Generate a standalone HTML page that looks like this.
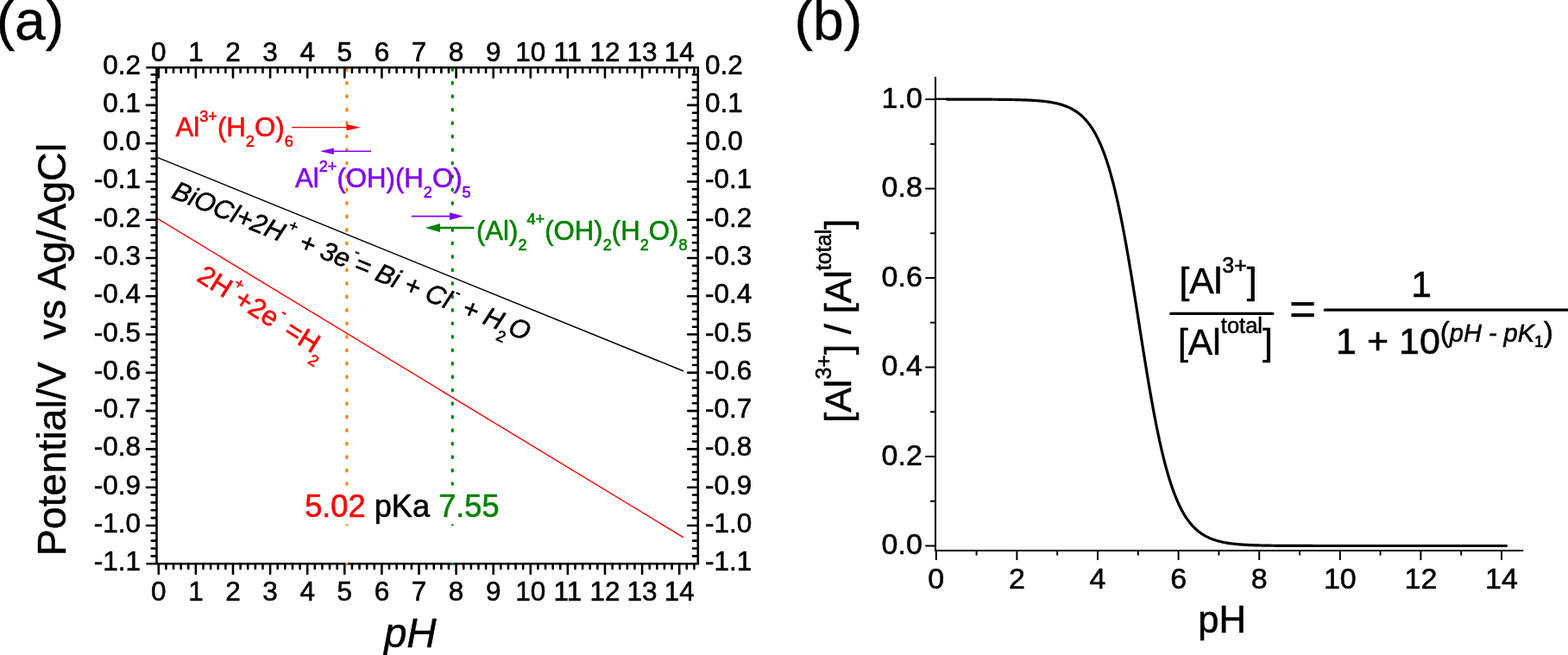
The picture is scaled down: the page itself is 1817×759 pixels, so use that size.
<!DOCTYPE html>
<html lang="en"><head><meta charset="utf-8"><title>Figure</title>
<style>html,body{margin:0;padding:0;background:#fff;overflow:hidden}svg{display:block}</style></head>
<body>
<svg width="1817" height="759" viewBox="0 0 1817 759" style="display:block" font-family='"Liberation Sans", sans-serif'>
<style>text{stroke-width:0.58px;stroke-linejoin:round;fill:#000;stroke:#000} .r{fill:#ff0000;stroke:#ff0000} .p{fill:#8000ff;stroke:#8000ff} .g{fill:#008000;stroke:#008000} .k{fill:#000;stroke:#000}</style>
<rect x="0" y="0" width="1817" height="759" fill="#fff"/>
<line x1="182.80" y1="182.60" x2="792.00" y2="430.00" stroke="#000" stroke-width="1.4" />
<line x1="182.80" y1="253.40" x2="792.20" y2="622.90" stroke="#ff0000" stroke-width="1.4" />
<line x1="401.90" y1="79.9" x2="401.90" y2="612" stroke="#ff8000" stroke-width="3.2" stroke-dasharray="1.6 13.88" stroke-linecap="round"/>
<line x1="524.30" y1="79.9" x2="524.30" y2="612" stroke="#008000" stroke-width="3.2" stroke-dasharray="1.6 13.88" stroke-linecap="round"/>
<rect x="350" y="562.6" width="232" height="44.9" fill="#fff"/>
<text x="353.2" y="599.3" font-size="36.2"><tspan class="r">5.02</tspan><tspan class="k"> pKa </tspan><tspan class="g">7.55</tspan></text>
<line x1="169.40" y1="78.20" x2="810.10" y2="78.20" stroke="#000" stroke-width="2.6" />
<line x1="169.40" y1="653.30" x2="810.10" y2="653.30" stroke="#000" stroke-width="2.6" />
<line x1="181.50" y1="78.20" x2="181.50" y2="653.30" stroke="#000" stroke-width="2.6" />
<line x1="808.80" y1="78.20" x2="808.80" y2="653.30" stroke="#000" stroke-width="2.6" />
<line x1="183.80" y1="78.80" x2="183.80" y2="89.80" stroke="#000" stroke-width="2.6" stroke-linecap="round"/>
<line x1="183.80" y1="653.90" x2="183.80" y2="664.90" stroke="#000" stroke-width="2.6" stroke-linecap="round"/>
<line x1="192.42" y1="78.80" x2="192.42" y2="84.00" stroke="#000" stroke-width="2.6" stroke-linecap="round"/>
<line x1="192.42" y1="653.90" x2="192.42" y2="659.10" stroke="#000" stroke-width="2.6" stroke-linecap="round"/>
<line x1="201.04" y1="78.80" x2="201.04" y2="84.00" stroke="#000" stroke-width="2.6" stroke-linecap="round"/>
<line x1="201.04" y1="653.90" x2="201.04" y2="659.10" stroke="#000" stroke-width="2.6" stroke-linecap="round"/>
<line x1="209.66" y1="78.80" x2="209.66" y2="84.00" stroke="#000" stroke-width="2.6" stroke-linecap="round"/>
<line x1="209.66" y1="653.90" x2="209.66" y2="659.10" stroke="#000" stroke-width="2.6" stroke-linecap="round"/>
<line x1="218.28" y1="78.80" x2="218.28" y2="84.00" stroke="#000" stroke-width="2.6" stroke-linecap="round"/>
<line x1="218.28" y1="653.90" x2="218.28" y2="659.10" stroke="#000" stroke-width="2.6" stroke-linecap="round"/>
<line x1="226.90" y1="78.80" x2="226.90" y2="89.80" stroke="#000" stroke-width="2.6" stroke-linecap="round"/>
<line x1="226.90" y1="653.90" x2="226.90" y2="664.90" stroke="#000" stroke-width="2.6" stroke-linecap="round"/>
<line x1="235.52" y1="78.80" x2="235.52" y2="84.00" stroke="#000" stroke-width="2.6" stroke-linecap="round"/>
<line x1="235.52" y1="653.90" x2="235.52" y2="659.10" stroke="#000" stroke-width="2.6" stroke-linecap="round"/>
<line x1="244.14" y1="78.80" x2="244.14" y2="84.00" stroke="#000" stroke-width="2.6" stroke-linecap="round"/>
<line x1="244.14" y1="653.90" x2="244.14" y2="659.10" stroke="#000" stroke-width="2.6" stroke-linecap="round"/>
<line x1="252.76" y1="78.80" x2="252.76" y2="84.00" stroke="#000" stroke-width="2.6" stroke-linecap="round"/>
<line x1="252.76" y1="653.90" x2="252.76" y2="659.10" stroke="#000" stroke-width="2.6" stroke-linecap="round"/>
<line x1="261.38" y1="78.80" x2="261.38" y2="84.00" stroke="#000" stroke-width="2.6" stroke-linecap="round"/>
<line x1="261.38" y1="653.90" x2="261.38" y2="659.10" stroke="#000" stroke-width="2.6" stroke-linecap="round"/>
<line x1="270.00" y1="78.80" x2="270.00" y2="89.80" stroke="#000" stroke-width="2.6" stroke-linecap="round"/>
<line x1="270.00" y1="653.90" x2="270.00" y2="664.90" stroke="#000" stroke-width="2.6" stroke-linecap="round"/>
<line x1="278.62" y1="78.80" x2="278.62" y2="84.00" stroke="#000" stroke-width="2.6" stroke-linecap="round"/>
<line x1="278.62" y1="653.90" x2="278.62" y2="659.10" stroke="#000" stroke-width="2.6" stroke-linecap="round"/>
<line x1="287.24" y1="78.80" x2="287.24" y2="84.00" stroke="#000" stroke-width="2.6" stroke-linecap="round"/>
<line x1="287.24" y1="653.90" x2="287.24" y2="659.10" stroke="#000" stroke-width="2.6" stroke-linecap="round"/>
<line x1="295.86" y1="78.80" x2="295.86" y2="84.00" stroke="#000" stroke-width="2.6" stroke-linecap="round"/>
<line x1="295.86" y1="653.90" x2="295.86" y2="659.10" stroke="#000" stroke-width="2.6" stroke-linecap="round"/>
<line x1="304.48" y1="78.80" x2="304.48" y2="84.00" stroke="#000" stroke-width="2.6" stroke-linecap="round"/>
<line x1="304.48" y1="653.90" x2="304.48" y2="659.10" stroke="#000" stroke-width="2.6" stroke-linecap="round"/>
<line x1="313.10" y1="78.80" x2="313.10" y2="89.80" stroke="#000" stroke-width="2.6" stroke-linecap="round"/>
<line x1="313.10" y1="653.90" x2="313.10" y2="664.90" stroke="#000" stroke-width="2.6" stroke-linecap="round"/>
<line x1="321.72" y1="78.80" x2="321.72" y2="84.00" stroke="#000" stroke-width="2.6" stroke-linecap="round"/>
<line x1="321.72" y1="653.90" x2="321.72" y2="659.10" stroke="#000" stroke-width="2.6" stroke-linecap="round"/>
<line x1="330.34" y1="78.80" x2="330.34" y2="84.00" stroke="#000" stroke-width="2.6" stroke-linecap="round"/>
<line x1="330.34" y1="653.90" x2="330.34" y2="659.10" stroke="#000" stroke-width="2.6" stroke-linecap="round"/>
<line x1="338.96" y1="78.80" x2="338.96" y2="84.00" stroke="#000" stroke-width="2.6" stroke-linecap="round"/>
<line x1="338.96" y1="653.90" x2="338.96" y2="659.10" stroke="#000" stroke-width="2.6" stroke-linecap="round"/>
<line x1="347.58" y1="78.80" x2="347.58" y2="84.00" stroke="#000" stroke-width="2.6" stroke-linecap="round"/>
<line x1="347.58" y1="653.90" x2="347.58" y2="659.10" stroke="#000" stroke-width="2.6" stroke-linecap="round"/>
<line x1="356.20" y1="78.80" x2="356.20" y2="89.80" stroke="#000" stroke-width="2.6" stroke-linecap="round"/>
<line x1="356.20" y1="653.90" x2="356.20" y2="664.90" stroke="#000" stroke-width="2.6" stroke-linecap="round"/>
<line x1="364.82" y1="78.80" x2="364.82" y2="84.00" stroke="#000" stroke-width="2.6" stroke-linecap="round"/>
<line x1="364.82" y1="653.90" x2="364.82" y2="659.10" stroke="#000" stroke-width="2.6" stroke-linecap="round"/>
<line x1="373.44" y1="78.80" x2="373.44" y2="84.00" stroke="#000" stroke-width="2.6" stroke-linecap="round"/>
<line x1="373.44" y1="653.90" x2="373.44" y2="659.10" stroke="#000" stroke-width="2.6" stroke-linecap="round"/>
<line x1="382.06" y1="78.80" x2="382.06" y2="84.00" stroke="#000" stroke-width="2.6" stroke-linecap="round"/>
<line x1="382.06" y1="653.90" x2="382.06" y2="659.10" stroke="#000" stroke-width="2.6" stroke-linecap="round"/>
<line x1="390.68" y1="78.80" x2="390.68" y2="84.00" stroke="#000" stroke-width="2.6" stroke-linecap="round"/>
<line x1="390.68" y1="653.90" x2="390.68" y2="659.10" stroke="#000" stroke-width="2.6" stroke-linecap="round"/>
<line x1="399.30" y1="78.80" x2="399.30" y2="89.80" stroke="#000" stroke-width="2.6" stroke-linecap="round"/>
<line x1="399.30" y1="653.90" x2="399.30" y2="664.90" stroke="#000" stroke-width="2.6" stroke-linecap="round"/>
<line x1="407.92" y1="78.80" x2="407.92" y2="84.00" stroke="#000" stroke-width="2.6" stroke-linecap="round"/>
<line x1="407.92" y1="653.90" x2="407.92" y2="659.10" stroke="#000" stroke-width="2.6" stroke-linecap="round"/>
<line x1="416.54" y1="78.80" x2="416.54" y2="84.00" stroke="#000" stroke-width="2.6" stroke-linecap="round"/>
<line x1="416.54" y1="653.90" x2="416.54" y2="659.10" stroke="#000" stroke-width="2.6" stroke-linecap="round"/>
<line x1="425.16" y1="78.80" x2="425.16" y2="84.00" stroke="#000" stroke-width="2.6" stroke-linecap="round"/>
<line x1="425.16" y1="653.90" x2="425.16" y2="659.10" stroke="#000" stroke-width="2.6" stroke-linecap="round"/>
<line x1="433.78" y1="78.80" x2="433.78" y2="84.00" stroke="#000" stroke-width="2.6" stroke-linecap="round"/>
<line x1="433.78" y1="653.90" x2="433.78" y2="659.10" stroke="#000" stroke-width="2.6" stroke-linecap="round"/>
<line x1="442.40" y1="78.80" x2="442.40" y2="89.80" stroke="#000" stroke-width="2.6" stroke-linecap="round"/>
<line x1="442.40" y1="653.90" x2="442.40" y2="664.90" stroke="#000" stroke-width="2.6" stroke-linecap="round"/>
<line x1="451.02" y1="78.80" x2="451.02" y2="84.00" stroke="#000" stroke-width="2.6" stroke-linecap="round"/>
<line x1="451.02" y1="653.90" x2="451.02" y2="659.10" stroke="#000" stroke-width="2.6" stroke-linecap="round"/>
<line x1="459.64" y1="78.80" x2="459.64" y2="84.00" stroke="#000" stroke-width="2.6" stroke-linecap="round"/>
<line x1="459.64" y1="653.90" x2="459.64" y2="659.10" stroke="#000" stroke-width="2.6" stroke-linecap="round"/>
<line x1="468.26" y1="78.80" x2="468.26" y2="84.00" stroke="#000" stroke-width="2.6" stroke-linecap="round"/>
<line x1="468.26" y1="653.90" x2="468.26" y2="659.10" stroke="#000" stroke-width="2.6" stroke-linecap="round"/>
<line x1="476.88" y1="78.80" x2="476.88" y2="84.00" stroke="#000" stroke-width="2.6" stroke-linecap="round"/>
<line x1="476.88" y1="653.90" x2="476.88" y2="659.10" stroke="#000" stroke-width="2.6" stroke-linecap="round"/>
<line x1="485.50" y1="78.80" x2="485.50" y2="89.80" stroke="#000" stroke-width="2.6" stroke-linecap="round"/>
<line x1="485.50" y1="653.90" x2="485.50" y2="664.90" stroke="#000" stroke-width="2.6" stroke-linecap="round"/>
<line x1="494.12" y1="78.80" x2="494.12" y2="84.00" stroke="#000" stroke-width="2.6" stroke-linecap="round"/>
<line x1="494.12" y1="653.90" x2="494.12" y2="659.10" stroke="#000" stroke-width="2.6" stroke-linecap="round"/>
<line x1="502.74" y1="78.80" x2="502.74" y2="84.00" stroke="#000" stroke-width="2.6" stroke-linecap="round"/>
<line x1="502.74" y1="653.90" x2="502.74" y2="659.10" stroke="#000" stroke-width="2.6" stroke-linecap="round"/>
<line x1="511.36" y1="78.80" x2="511.36" y2="84.00" stroke="#000" stroke-width="2.6" stroke-linecap="round"/>
<line x1="511.36" y1="653.90" x2="511.36" y2="659.10" stroke="#000" stroke-width="2.6" stroke-linecap="round"/>
<line x1="519.98" y1="78.80" x2="519.98" y2="84.00" stroke="#000" stroke-width="2.6" stroke-linecap="round"/>
<line x1="519.98" y1="653.90" x2="519.98" y2="659.10" stroke="#000" stroke-width="2.6" stroke-linecap="round"/>
<line x1="528.60" y1="78.80" x2="528.60" y2="89.80" stroke="#000" stroke-width="2.6" stroke-linecap="round"/>
<line x1="528.60" y1="653.90" x2="528.60" y2="664.90" stroke="#000" stroke-width="2.6" stroke-linecap="round"/>
<line x1="537.22" y1="78.80" x2="537.22" y2="84.00" stroke="#000" stroke-width="2.6" stroke-linecap="round"/>
<line x1="537.22" y1="653.90" x2="537.22" y2="659.10" stroke="#000" stroke-width="2.6" stroke-linecap="round"/>
<line x1="545.84" y1="78.80" x2="545.84" y2="84.00" stroke="#000" stroke-width="2.6" stroke-linecap="round"/>
<line x1="545.84" y1="653.90" x2="545.84" y2="659.10" stroke="#000" stroke-width="2.6" stroke-linecap="round"/>
<line x1="554.46" y1="78.80" x2="554.46" y2="84.00" stroke="#000" stroke-width="2.6" stroke-linecap="round"/>
<line x1="554.46" y1="653.90" x2="554.46" y2="659.10" stroke="#000" stroke-width="2.6" stroke-linecap="round"/>
<line x1="563.08" y1="78.80" x2="563.08" y2="84.00" stroke="#000" stroke-width="2.6" stroke-linecap="round"/>
<line x1="563.08" y1="653.90" x2="563.08" y2="659.10" stroke="#000" stroke-width="2.6" stroke-linecap="round"/>
<line x1="571.70" y1="78.80" x2="571.70" y2="89.80" stroke="#000" stroke-width="2.6" stroke-linecap="round"/>
<line x1="571.70" y1="653.90" x2="571.70" y2="664.90" stroke="#000" stroke-width="2.6" stroke-linecap="round"/>
<line x1="580.32" y1="78.80" x2="580.32" y2="84.00" stroke="#000" stroke-width="2.6" stroke-linecap="round"/>
<line x1="580.32" y1="653.90" x2="580.32" y2="659.10" stroke="#000" stroke-width="2.6" stroke-linecap="round"/>
<line x1="588.94" y1="78.80" x2="588.94" y2="84.00" stroke="#000" stroke-width="2.6" stroke-linecap="round"/>
<line x1="588.94" y1="653.90" x2="588.94" y2="659.10" stroke="#000" stroke-width="2.6" stroke-linecap="round"/>
<line x1="597.56" y1="78.80" x2="597.56" y2="84.00" stroke="#000" stroke-width="2.6" stroke-linecap="round"/>
<line x1="597.56" y1="653.90" x2="597.56" y2="659.10" stroke="#000" stroke-width="2.6" stroke-linecap="round"/>
<line x1="606.18" y1="78.80" x2="606.18" y2="84.00" stroke="#000" stroke-width="2.6" stroke-linecap="round"/>
<line x1="606.18" y1="653.90" x2="606.18" y2="659.10" stroke="#000" stroke-width="2.6" stroke-linecap="round"/>
<line x1="614.80" y1="78.80" x2="614.80" y2="89.80" stroke="#000" stroke-width="2.6" stroke-linecap="round"/>
<line x1="614.80" y1="653.90" x2="614.80" y2="664.90" stroke="#000" stroke-width="2.6" stroke-linecap="round"/>
<line x1="623.42" y1="78.80" x2="623.42" y2="84.00" stroke="#000" stroke-width="2.6" stroke-linecap="round"/>
<line x1="623.42" y1="653.90" x2="623.42" y2="659.10" stroke="#000" stroke-width="2.6" stroke-linecap="round"/>
<line x1="632.04" y1="78.80" x2="632.04" y2="84.00" stroke="#000" stroke-width="2.6" stroke-linecap="round"/>
<line x1="632.04" y1="653.90" x2="632.04" y2="659.10" stroke="#000" stroke-width="2.6" stroke-linecap="round"/>
<line x1="640.66" y1="78.80" x2="640.66" y2="84.00" stroke="#000" stroke-width="2.6" stroke-linecap="round"/>
<line x1="640.66" y1="653.90" x2="640.66" y2="659.10" stroke="#000" stroke-width="2.6" stroke-linecap="round"/>
<line x1="649.28" y1="78.80" x2="649.28" y2="84.00" stroke="#000" stroke-width="2.6" stroke-linecap="round"/>
<line x1="649.28" y1="653.90" x2="649.28" y2="659.10" stroke="#000" stroke-width="2.6" stroke-linecap="round"/>
<line x1="657.90" y1="78.80" x2="657.90" y2="89.80" stroke="#000" stroke-width="2.6" stroke-linecap="round"/>
<line x1="657.90" y1="653.90" x2="657.90" y2="664.90" stroke="#000" stroke-width="2.6" stroke-linecap="round"/>
<line x1="666.52" y1="78.80" x2="666.52" y2="84.00" stroke="#000" stroke-width="2.6" stroke-linecap="round"/>
<line x1="666.52" y1="653.90" x2="666.52" y2="659.10" stroke="#000" stroke-width="2.6" stroke-linecap="round"/>
<line x1="675.14" y1="78.80" x2="675.14" y2="84.00" stroke="#000" stroke-width="2.6" stroke-linecap="round"/>
<line x1="675.14" y1="653.90" x2="675.14" y2="659.10" stroke="#000" stroke-width="2.6" stroke-linecap="round"/>
<line x1="683.76" y1="78.80" x2="683.76" y2="84.00" stroke="#000" stroke-width="2.6" stroke-linecap="round"/>
<line x1="683.76" y1="653.90" x2="683.76" y2="659.10" stroke="#000" stroke-width="2.6" stroke-linecap="round"/>
<line x1="692.38" y1="78.80" x2="692.38" y2="84.00" stroke="#000" stroke-width="2.6" stroke-linecap="round"/>
<line x1="692.38" y1="653.90" x2="692.38" y2="659.10" stroke="#000" stroke-width="2.6" stroke-linecap="round"/>
<line x1="701.00" y1="78.80" x2="701.00" y2="89.80" stroke="#000" stroke-width="2.6" stroke-linecap="round"/>
<line x1="701.00" y1="653.90" x2="701.00" y2="664.90" stroke="#000" stroke-width="2.6" stroke-linecap="round"/>
<line x1="709.62" y1="78.80" x2="709.62" y2="84.00" stroke="#000" stroke-width="2.6" stroke-linecap="round"/>
<line x1="709.62" y1="653.90" x2="709.62" y2="659.10" stroke="#000" stroke-width="2.6" stroke-linecap="round"/>
<line x1="718.24" y1="78.80" x2="718.24" y2="84.00" stroke="#000" stroke-width="2.6" stroke-linecap="round"/>
<line x1="718.24" y1="653.90" x2="718.24" y2="659.10" stroke="#000" stroke-width="2.6" stroke-linecap="round"/>
<line x1="726.86" y1="78.80" x2="726.86" y2="84.00" stroke="#000" stroke-width="2.6" stroke-linecap="round"/>
<line x1="726.86" y1="653.90" x2="726.86" y2="659.10" stroke="#000" stroke-width="2.6" stroke-linecap="round"/>
<line x1="735.48" y1="78.80" x2="735.48" y2="84.00" stroke="#000" stroke-width="2.6" stroke-linecap="round"/>
<line x1="735.48" y1="653.90" x2="735.48" y2="659.10" stroke="#000" stroke-width="2.6" stroke-linecap="round"/>
<line x1="744.10" y1="78.80" x2="744.10" y2="89.80" stroke="#000" stroke-width="2.6" stroke-linecap="round"/>
<line x1="744.10" y1="653.90" x2="744.10" y2="664.90" stroke="#000" stroke-width="2.6" stroke-linecap="round"/>
<line x1="752.72" y1="78.80" x2="752.72" y2="84.00" stroke="#000" stroke-width="2.6" stroke-linecap="round"/>
<line x1="752.72" y1="653.90" x2="752.72" y2="659.10" stroke="#000" stroke-width="2.6" stroke-linecap="round"/>
<line x1="761.34" y1="78.80" x2="761.34" y2="84.00" stroke="#000" stroke-width="2.6" stroke-linecap="round"/>
<line x1="761.34" y1="653.90" x2="761.34" y2="659.10" stroke="#000" stroke-width="2.6" stroke-linecap="round"/>
<line x1="769.96" y1="78.80" x2="769.96" y2="84.00" stroke="#000" stroke-width="2.6" stroke-linecap="round"/>
<line x1="769.96" y1="653.90" x2="769.96" y2="659.10" stroke="#000" stroke-width="2.6" stroke-linecap="round"/>
<line x1="778.58" y1="78.80" x2="778.58" y2="84.00" stroke="#000" stroke-width="2.6" stroke-linecap="round"/>
<line x1="778.58" y1="653.90" x2="778.58" y2="659.10" stroke="#000" stroke-width="2.6" stroke-linecap="round"/>
<line x1="787.20" y1="78.80" x2="787.20" y2="89.80" stroke="#000" stroke-width="2.6" stroke-linecap="round"/>
<line x1="787.20" y1="653.90" x2="787.20" y2="664.90" stroke="#000" stroke-width="2.6" stroke-linecap="round"/>
<line x1="795.82" y1="78.80" x2="795.82" y2="84.00" stroke="#000" stroke-width="2.6" stroke-linecap="round"/>
<line x1="795.82" y1="653.90" x2="795.82" y2="659.10" stroke="#000" stroke-width="2.6" stroke-linecap="round"/>
<line x1="804.44" y1="78.80" x2="804.44" y2="84.00" stroke="#000" stroke-width="2.6" stroke-linecap="round"/>
<line x1="804.44" y1="653.90" x2="804.44" y2="659.10" stroke="#000" stroke-width="2.6" stroke-linecap="round"/>
<line x1="180.90" y1="86.46" x2="175.70" y2="86.46" stroke="#000" stroke-width="2.6" stroke-linecap="round"/>
<line x1="808.20" y1="86.46" x2="803.00" y2="86.46" stroke="#000" stroke-width="2.6" stroke-linecap="round"/>
<line x1="180.90" y1="95.31" x2="175.70" y2="95.31" stroke="#000" stroke-width="2.6" stroke-linecap="round"/>
<line x1="808.20" y1="95.31" x2="803.00" y2="95.31" stroke="#000" stroke-width="2.6" stroke-linecap="round"/>
<line x1="180.90" y1="104.17" x2="175.70" y2="104.17" stroke="#000" stroke-width="2.6" stroke-linecap="round"/>
<line x1="808.20" y1="104.17" x2="803.00" y2="104.17" stroke="#000" stroke-width="2.6" stroke-linecap="round"/>
<line x1="180.90" y1="113.02" x2="175.70" y2="113.02" stroke="#000" stroke-width="2.6" stroke-linecap="round"/>
<line x1="808.20" y1="113.02" x2="803.00" y2="113.02" stroke="#000" stroke-width="2.6" stroke-linecap="round"/>
<line x1="180.90" y1="121.88" x2="169.90" y2="121.88" stroke="#000" stroke-width="2.6" stroke-linecap="round"/>
<line x1="808.20" y1="121.88" x2="797.20" y2="121.88" stroke="#000" stroke-width="2.6" stroke-linecap="round"/>
<line x1="180.90" y1="130.74" x2="175.70" y2="130.74" stroke="#000" stroke-width="2.6" stroke-linecap="round"/>
<line x1="808.20" y1="130.74" x2="803.00" y2="130.74" stroke="#000" stroke-width="2.6" stroke-linecap="round"/>
<line x1="180.90" y1="139.59" x2="175.70" y2="139.59" stroke="#000" stroke-width="2.6" stroke-linecap="round"/>
<line x1="808.20" y1="139.59" x2="803.00" y2="139.59" stroke="#000" stroke-width="2.6" stroke-linecap="round"/>
<line x1="180.90" y1="148.45" x2="175.70" y2="148.45" stroke="#000" stroke-width="2.6" stroke-linecap="round"/>
<line x1="808.20" y1="148.45" x2="803.00" y2="148.45" stroke="#000" stroke-width="2.6" stroke-linecap="round"/>
<line x1="180.90" y1="157.30" x2="175.70" y2="157.30" stroke="#000" stroke-width="2.6" stroke-linecap="round"/>
<line x1="808.20" y1="157.30" x2="803.00" y2="157.30" stroke="#000" stroke-width="2.6" stroke-linecap="round"/>
<line x1="180.90" y1="166.16" x2="169.90" y2="166.16" stroke="#000" stroke-width="2.6" stroke-linecap="round"/>
<line x1="808.20" y1="166.16" x2="797.20" y2="166.16" stroke="#000" stroke-width="2.6" stroke-linecap="round"/>
<line x1="180.90" y1="175.02" x2="175.70" y2="175.02" stroke="#000" stroke-width="2.6" stroke-linecap="round"/>
<line x1="808.20" y1="175.02" x2="803.00" y2="175.02" stroke="#000" stroke-width="2.6" stroke-linecap="round"/>
<line x1="180.90" y1="183.87" x2="175.70" y2="183.87" stroke="#000" stroke-width="2.6" stroke-linecap="round"/>
<line x1="808.20" y1="183.87" x2="803.00" y2="183.87" stroke="#000" stroke-width="2.6" stroke-linecap="round"/>
<line x1="180.90" y1="192.73" x2="175.70" y2="192.73" stroke="#000" stroke-width="2.6" stroke-linecap="round"/>
<line x1="808.20" y1="192.73" x2="803.00" y2="192.73" stroke="#000" stroke-width="2.6" stroke-linecap="round"/>
<line x1="180.90" y1="201.58" x2="175.70" y2="201.58" stroke="#000" stroke-width="2.6" stroke-linecap="round"/>
<line x1="808.20" y1="201.58" x2="803.00" y2="201.58" stroke="#000" stroke-width="2.6" stroke-linecap="round"/>
<line x1="180.90" y1="210.44" x2="169.90" y2="210.44" stroke="#000" stroke-width="2.6" stroke-linecap="round"/>
<line x1="808.20" y1="210.44" x2="797.20" y2="210.44" stroke="#000" stroke-width="2.6" stroke-linecap="round"/>
<line x1="180.90" y1="219.30" x2="175.70" y2="219.30" stroke="#000" stroke-width="2.6" stroke-linecap="round"/>
<line x1="808.20" y1="219.30" x2="803.00" y2="219.30" stroke="#000" stroke-width="2.6" stroke-linecap="round"/>
<line x1="180.90" y1="228.15" x2="175.70" y2="228.15" stroke="#000" stroke-width="2.6" stroke-linecap="round"/>
<line x1="808.20" y1="228.15" x2="803.00" y2="228.15" stroke="#000" stroke-width="2.6" stroke-linecap="round"/>
<line x1="180.90" y1="237.01" x2="175.70" y2="237.01" stroke="#000" stroke-width="2.6" stroke-linecap="round"/>
<line x1="808.20" y1="237.01" x2="803.00" y2="237.01" stroke="#000" stroke-width="2.6" stroke-linecap="round"/>
<line x1="180.90" y1="245.86" x2="175.70" y2="245.86" stroke="#000" stroke-width="2.6" stroke-linecap="round"/>
<line x1="808.20" y1="245.86" x2="803.00" y2="245.86" stroke="#000" stroke-width="2.6" stroke-linecap="round"/>
<line x1="180.90" y1="254.72" x2="169.90" y2="254.72" stroke="#000" stroke-width="2.6" stroke-linecap="round"/>
<line x1="808.20" y1="254.72" x2="797.20" y2="254.72" stroke="#000" stroke-width="2.6" stroke-linecap="round"/>
<line x1="180.90" y1="263.58" x2="175.70" y2="263.58" stroke="#000" stroke-width="2.6" stroke-linecap="round"/>
<line x1="808.20" y1="263.58" x2="803.00" y2="263.58" stroke="#000" stroke-width="2.6" stroke-linecap="round"/>
<line x1="180.90" y1="272.43" x2="175.70" y2="272.43" stroke="#000" stroke-width="2.6" stroke-linecap="round"/>
<line x1="808.20" y1="272.43" x2="803.00" y2="272.43" stroke="#000" stroke-width="2.6" stroke-linecap="round"/>
<line x1="180.90" y1="281.29" x2="175.70" y2="281.29" stroke="#000" stroke-width="2.6" stroke-linecap="round"/>
<line x1="808.20" y1="281.29" x2="803.00" y2="281.29" stroke="#000" stroke-width="2.6" stroke-linecap="round"/>
<line x1="180.90" y1="290.14" x2="175.70" y2="290.14" stroke="#000" stroke-width="2.6" stroke-linecap="round"/>
<line x1="808.20" y1="290.14" x2="803.00" y2="290.14" stroke="#000" stroke-width="2.6" stroke-linecap="round"/>
<line x1="180.90" y1="299.00" x2="169.90" y2="299.00" stroke="#000" stroke-width="2.6" stroke-linecap="round"/>
<line x1="808.20" y1="299.00" x2="797.20" y2="299.00" stroke="#000" stroke-width="2.6" stroke-linecap="round"/>
<line x1="180.90" y1="307.86" x2="175.70" y2="307.86" stroke="#000" stroke-width="2.6" stroke-linecap="round"/>
<line x1="808.20" y1="307.86" x2="803.00" y2="307.86" stroke="#000" stroke-width="2.6" stroke-linecap="round"/>
<line x1="180.90" y1="316.71" x2="175.70" y2="316.71" stroke="#000" stroke-width="2.6" stroke-linecap="round"/>
<line x1="808.20" y1="316.71" x2="803.00" y2="316.71" stroke="#000" stroke-width="2.6" stroke-linecap="round"/>
<line x1="180.90" y1="325.57" x2="175.70" y2="325.57" stroke="#000" stroke-width="2.6" stroke-linecap="round"/>
<line x1="808.20" y1="325.57" x2="803.00" y2="325.57" stroke="#000" stroke-width="2.6" stroke-linecap="round"/>
<line x1="180.90" y1="334.42" x2="175.70" y2="334.42" stroke="#000" stroke-width="2.6" stroke-linecap="round"/>
<line x1="808.20" y1="334.42" x2="803.00" y2="334.42" stroke="#000" stroke-width="2.6" stroke-linecap="round"/>
<line x1="180.90" y1="343.28" x2="169.90" y2="343.28" stroke="#000" stroke-width="2.6" stroke-linecap="round"/>
<line x1="808.20" y1="343.28" x2="797.20" y2="343.28" stroke="#000" stroke-width="2.6" stroke-linecap="round"/>
<line x1="180.90" y1="352.14" x2="175.70" y2="352.14" stroke="#000" stroke-width="2.6" stroke-linecap="round"/>
<line x1="808.20" y1="352.14" x2="803.00" y2="352.14" stroke="#000" stroke-width="2.6" stroke-linecap="round"/>
<line x1="180.90" y1="360.99" x2="175.70" y2="360.99" stroke="#000" stroke-width="2.6" stroke-linecap="round"/>
<line x1="808.20" y1="360.99" x2="803.00" y2="360.99" stroke="#000" stroke-width="2.6" stroke-linecap="round"/>
<line x1="180.90" y1="369.85" x2="175.70" y2="369.85" stroke="#000" stroke-width="2.6" stroke-linecap="round"/>
<line x1="808.20" y1="369.85" x2="803.00" y2="369.85" stroke="#000" stroke-width="2.6" stroke-linecap="round"/>
<line x1="180.90" y1="378.70" x2="175.70" y2="378.70" stroke="#000" stroke-width="2.6" stroke-linecap="round"/>
<line x1="808.20" y1="378.70" x2="803.00" y2="378.70" stroke="#000" stroke-width="2.6" stroke-linecap="round"/>
<line x1="180.90" y1="387.56" x2="169.90" y2="387.56" stroke="#000" stroke-width="2.6" stroke-linecap="round"/>
<line x1="808.20" y1="387.56" x2="797.20" y2="387.56" stroke="#000" stroke-width="2.6" stroke-linecap="round"/>
<line x1="180.90" y1="396.42" x2="175.70" y2="396.42" stroke="#000" stroke-width="2.6" stroke-linecap="round"/>
<line x1="808.20" y1="396.42" x2="803.00" y2="396.42" stroke="#000" stroke-width="2.6" stroke-linecap="round"/>
<line x1="180.90" y1="405.27" x2="175.70" y2="405.27" stroke="#000" stroke-width="2.6" stroke-linecap="round"/>
<line x1="808.20" y1="405.27" x2="803.00" y2="405.27" stroke="#000" stroke-width="2.6" stroke-linecap="round"/>
<line x1="180.90" y1="414.13" x2="175.70" y2="414.13" stroke="#000" stroke-width="2.6" stroke-linecap="round"/>
<line x1="808.20" y1="414.13" x2="803.00" y2="414.13" stroke="#000" stroke-width="2.6" stroke-linecap="round"/>
<line x1="180.90" y1="422.98" x2="175.70" y2="422.98" stroke="#000" stroke-width="2.6" stroke-linecap="round"/>
<line x1="808.20" y1="422.98" x2="803.00" y2="422.98" stroke="#000" stroke-width="2.6" stroke-linecap="round"/>
<line x1="180.90" y1="431.84" x2="169.90" y2="431.84" stroke="#000" stroke-width="2.6" stroke-linecap="round"/>
<line x1="808.20" y1="431.84" x2="797.20" y2="431.84" stroke="#000" stroke-width="2.6" stroke-linecap="round"/>
<line x1="180.90" y1="440.70" x2="175.70" y2="440.70" stroke="#000" stroke-width="2.6" stroke-linecap="round"/>
<line x1="808.20" y1="440.70" x2="803.00" y2="440.70" stroke="#000" stroke-width="2.6" stroke-linecap="round"/>
<line x1="180.90" y1="449.55" x2="175.70" y2="449.55" stroke="#000" stroke-width="2.6" stroke-linecap="round"/>
<line x1="808.20" y1="449.55" x2="803.00" y2="449.55" stroke="#000" stroke-width="2.6" stroke-linecap="round"/>
<line x1="180.90" y1="458.41" x2="175.70" y2="458.41" stroke="#000" stroke-width="2.6" stroke-linecap="round"/>
<line x1="808.20" y1="458.41" x2="803.00" y2="458.41" stroke="#000" stroke-width="2.6" stroke-linecap="round"/>
<line x1="180.90" y1="467.26" x2="175.70" y2="467.26" stroke="#000" stroke-width="2.6" stroke-linecap="round"/>
<line x1="808.20" y1="467.26" x2="803.00" y2="467.26" stroke="#000" stroke-width="2.6" stroke-linecap="round"/>
<line x1="180.90" y1="476.12" x2="169.90" y2="476.12" stroke="#000" stroke-width="2.6" stroke-linecap="round"/>
<line x1="808.20" y1="476.12" x2="797.20" y2="476.12" stroke="#000" stroke-width="2.6" stroke-linecap="round"/>
<line x1="180.90" y1="484.98" x2="175.70" y2="484.98" stroke="#000" stroke-width="2.6" stroke-linecap="round"/>
<line x1="808.20" y1="484.98" x2="803.00" y2="484.98" stroke="#000" stroke-width="2.6" stroke-linecap="round"/>
<line x1="180.90" y1="493.83" x2="175.70" y2="493.83" stroke="#000" stroke-width="2.6" stroke-linecap="round"/>
<line x1="808.20" y1="493.83" x2="803.00" y2="493.83" stroke="#000" stroke-width="2.6" stroke-linecap="round"/>
<line x1="180.90" y1="502.69" x2="175.70" y2="502.69" stroke="#000" stroke-width="2.6" stroke-linecap="round"/>
<line x1="808.20" y1="502.69" x2="803.00" y2="502.69" stroke="#000" stroke-width="2.6" stroke-linecap="round"/>
<line x1="180.90" y1="511.54" x2="175.70" y2="511.54" stroke="#000" stroke-width="2.6" stroke-linecap="round"/>
<line x1="808.20" y1="511.54" x2="803.00" y2="511.54" stroke="#000" stroke-width="2.6" stroke-linecap="round"/>
<line x1="180.90" y1="520.40" x2="169.90" y2="520.40" stroke="#000" stroke-width="2.6" stroke-linecap="round"/>
<line x1="808.20" y1="520.40" x2="797.20" y2="520.40" stroke="#000" stroke-width="2.6" stroke-linecap="round"/>
<line x1="180.90" y1="529.26" x2="175.70" y2="529.26" stroke="#000" stroke-width="2.6" stroke-linecap="round"/>
<line x1="808.20" y1="529.26" x2="803.00" y2="529.26" stroke="#000" stroke-width="2.6" stroke-linecap="round"/>
<line x1="180.90" y1="538.11" x2="175.70" y2="538.11" stroke="#000" stroke-width="2.6" stroke-linecap="round"/>
<line x1="808.20" y1="538.11" x2="803.00" y2="538.11" stroke="#000" stroke-width="2.6" stroke-linecap="round"/>
<line x1="180.90" y1="546.97" x2="175.70" y2="546.97" stroke="#000" stroke-width="2.6" stroke-linecap="round"/>
<line x1="808.20" y1="546.97" x2="803.00" y2="546.97" stroke="#000" stroke-width="2.6" stroke-linecap="round"/>
<line x1="180.90" y1="555.82" x2="175.70" y2="555.82" stroke="#000" stroke-width="2.6" stroke-linecap="round"/>
<line x1="808.20" y1="555.82" x2="803.00" y2="555.82" stroke="#000" stroke-width="2.6" stroke-linecap="round"/>
<line x1="180.90" y1="564.68" x2="169.90" y2="564.68" stroke="#000" stroke-width="2.6" stroke-linecap="round"/>
<line x1="808.20" y1="564.68" x2="797.20" y2="564.68" stroke="#000" stroke-width="2.6" stroke-linecap="round"/>
<line x1="180.90" y1="573.54" x2="175.70" y2="573.54" stroke="#000" stroke-width="2.6" stroke-linecap="round"/>
<line x1="808.20" y1="573.54" x2="803.00" y2="573.54" stroke="#000" stroke-width="2.6" stroke-linecap="round"/>
<line x1="180.90" y1="582.39" x2="175.70" y2="582.39" stroke="#000" stroke-width="2.6" stroke-linecap="round"/>
<line x1="808.20" y1="582.39" x2="803.00" y2="582.39" stroke="#000" stroke-width="2.6" stroke-linecap="round"/>
<line x1="180.90" y1="591.25" x2="175.70" y2="591.25" stroke="#000" stroke-width="2.6" stroke-linecap="round"/>
<line x1="808.20" y1="591.25" x2="803.00" y2="591.25" stroke="#000" stroke-width="2.6" stroke-linecap="round"/>
<line x1="180.90" y1="600.10" x2="175.70" y2="600.10" stroke="#000" stroke-width="2.6" stroke-linecap="round"/>
<line x1="808.20" y1="600.10" x2="803.00" y2="600.10" stroke="#000" stroke-width="2.6" stroke-linecap="round"/>
<line x1="180.90" y1="608.96" x2="169.90" y2="608.96" stroke="#000" stroke-width="2.6" stroke-linecap="round"/>
<line x1="808.20" y1="608.96" x2="797.20" y2="608.96" stroke="#000" stroke-width="2.6" stroke-linecap="round"/>
<line x1="180.90" y1="617.82" x2="175.70" y2="617.82" stroke="#000" stroke-width="2.6" stroke-linecap="round"/>
<line x1="808.20" y1="617.82" x2="803.00" y2="617.82" stroke="#000" stroke-width="2.6" stroke-linecap="round"/>
<line x1="180.90" y1="626.67" x2="175.70" y2="626.67" stroke="#000" stroke-width="2.6" stroke-linecap="round"/>
<line x1="808.20" y1="626.67" x2="803.00" y2="626.67" stroke="#000" stroke-width="2.6" stroke-linecap="round"/>
<line x1="180.90" y1="635.53" x2="175.70" y2="635.53" stroke="#000" stroke-width="2.6" stroke-linecap="round"/>
<line x1="808.20" y1="635.53" x2="803.00" y2="635.53" stroke="#000" stroke-width="2.6" stroke-linecap="round"/>
<line x1="180.90" y1="644.38" x2="175.70" y2="644.38" stroke="#000" stroke-width="2.6" stroke-linecap="round"/>
<line x1="808.20" y1="644.38" x2="803.00" y2="644.38" stroke="#000" stroke-width="2.6" stroke-linecap="round"/>
<rect x="400.2" y="652" width="3.4" height="2.6" fill="#ff8000"/>
<rect x="522.6" y="652" width="3.4" height="2.6" fill="#008000"/>
<text x="183.80" y="71.3" font-size="31.5" text-anchor="middle">0</text>
<text x="183.80" y="696.2" font-size="31.5" text-anchor="middle">0</text>
<text x="226.90" y="71.3" font-size="31.5" text-anchor="middle">1</text>
<text x="226.90" y="696.2" font-size="31.5" text-anchor="middle">1</text>
<text x="270.00" y="71.3" font-size="31.5" text-anchor="middle">2</text>
<text x="270.00" y="696.2" font-size="31.5" text-anchor="middle">2</text>
<text x="313.10" y="71.3" font-size="31.5" text-anchor="middle">3</text>
<text x="313.10" y="696.2" font-size="31.5" text-anchor="middle">3</text>
<text x="356.20" y="71.3" font-size="31.5" text-anchor="middle">4</text>
<text x="356.20" y="696.2" font-size="31.5" text-anchor="middle">4</text>
<text x="399.30" y="71.3" font-size="31.5" text-anchor="middle">5</text>
<text x="399.30" y="696.2" font-size="31.5" text-anchor="middle">5</text>
<text x="442.40" y="71.3" font-size="31.5" text-anchor="middle">6</text>
<text x="442.40" y="696.2" font-size="31.5" text-anchor="middle">6</text>
<text x="485.50" y="71.3" font-size="31.5" text-anchor="middle">7</text>
<text x="485.50" y="696.2" font-size="31.5" text-anchor="middle">7</text>
<text x="528.60" y="71.3" font-size="31.5" text-anchor="middle">8</text>
<text x="528.60" y="696.2" font-size="31.5" text-anchor="middle">8</text>
<text x="571.70" y="71.3" font-size="31.5" text-anchor="middle">9</text>
<text x="571.70" y="696.2" font-size="31.5" text-anchor="middle">9</text>
<text x="614.80" y="71.3" font-size="31.5" text-anchor="middle">10</text>
<text x="614.80" y="696.2" font-size="31.5" text-anchor="middle">10</text>
<text x="657.90" y="71.3" font-size="31.5" text-anchor="middle">11</text>
<text x="657.90" y="696.2" font-size="31.5" text-anchor="middle">11</text>
<text x="701.00" y="71.3" font-size="31.5" text-anchor="middle">12</text>
<text x="701.00" y="696.2" font-size="31.5" text-anchor="middle">12</text>
<text x="744.10" y="71.3" font-size="31.5" text-anchor="middle">13</text>
<text x="744.10" y="696.2" font-size="31.5" text-anchor="middle">13</text>
<text x="787.20" y="71.3" font-size="31.5" text-anchor="middle">14</text>
<text x="787.20" y="696.2" font-size="31.5" text-anchor="middle">14</text>
<text x="163.1" y="85.60" font-size="31.5" text-anchor="end">0.2</text>
<text x="817" y="85.60" font-size="31.5">0.2</text>
<text x="163.1" y="129.88" font-size="31.5" text-anchor="end">0.1</text>
<text x="817" y="129.88" font-size="31.5">0.1</text>
<text x="163.1" y="174.16" font-size="31.5" text-anchor="end">0.0</text>
<text x="817" y="174.16" font-size="31.5">0.0</text>
<text x="163.1" y="218.44" font-size="31.5" text-anchor="end">-0.1</text>
<text x="817" y="218.44" font-size="31.5">-0.1</text>
<text x="163.1" y="262.72" font-size="31.5" text-anchor="end">-0.2</text>
<text x="817" y="262.72" font-size="31.5">-0.2</text>
<text x="163.1" y="307.00" font-size="31.5" text-anchor="end">-0.3</text>
<text x="817" y="307.00" font-size="31.5">-0.3</text>
<text x="163.1" y="351.28" font-size="31.5" text-anchor="end">-0.4</text>
<text x="817" y="351.28" font-size="31.5">-0.4</text>
<text x="163.1" y="395.56" font-size="31.5" text-anchor="end">-0.5</text>
<text x="817" y="395.56" font-size="31.5">-0.5</text>
<text x="163.1" y="439.84" font-size="31.5" text-anchor="end">-0.6</text>
<text x="817" y="439.84" font-size="31.5">-0.6</text>
<text x="163.1" y="484.12" font-size="31.5" text-anchor="end">-0.7</text>
<text x="817" y="484.12" font-size="31.5">-0.7</text>
<text x="163.1" y="528.40" font-size="31.5" text-anchor="end">-0.8</text>
<text x="817" y="528.40" font-size="31.5">-0.8</text>
<text x="163.1" y="572.68" font-size="31.5" text-anchor="end">-0.9</text>
<text x="817" y="572.68" font-size="31.5">-0.9</text>
<text x="163.1" y="616.96" font-size="31.5" text-anchor="end">-1.0</text>
<text x="817" y="616.96" font-size="31.5">-1.0</text>
<text x="163.1" y="661.24" font-size="31.5" text-anchor="end">-1.1</text>
<text x="817" y="661.24" font-size="31.5">-1.1</text>
<text x="-4.3" y="45.5" font-size="64.3" style="stroke-width:0.4px">(a)</text>
<text transform="translate(75.8,644.2) rotate(-90)" font-size="46.5" style="stroke-width:0.45px;white-space:pre" xml:space="preserve">Potential/V  vs Ag/AgCl</text>
<text x="444.9" y="749.6" font-size="47.6" font-style="italic" style="stroke-width:0.45px">pH</text>
<text x="203.4" y="158.1" font-size="31.25" class="r" ><tspan dy="0.00" font-size="31.25">Al</tspan><tspan dy="-17.26" font-size="18.15">3+</tspan><tspan dy="17.26" font-size="31.25">(H</tspan><tspan dy="11.90" font-size="18.15">2</tspan><tspan dy="-11.90" font-size="31.25">O)</tspan><tspan dy="11.90" font-size="18.15">6</tspan></text>
<text x="342.0" y="216.7" font-size="31.2" class="p" ><tspan dy="0.00" font-size="31.20">Al</tspan><tspan dy="-17.23" font-size="18.13">2+</tspan><tspan dy="17.23" font-size="31.20">(OH)(H</tspan><tspan dy="11.89" font-size="18.13">2</tspan><tspan dy="-11.89" font-size="31.20">O)</tspan><tspan dy="11.89" font-size="18.13">5</tspan></text>
<text x="551.9" y="277.7" font-size="31.2" class="g" ><tspan dy="0.00" font-size="31.20">(Al)</tspan><tspan dy="11.89" font-size="18.13">2</tspan><tspan dy="-29.12" font-size="18.13">4+</tspan><tspan dy="17.23" font-size="31.20">(OH)</tspan><tspan dy="11.89" font-size="18.13">2</tspan><tspan dy="-11.89" font-size="31.20">(H</tspan><tspan dy="11.89" font-size="18.13">2</tspan><tspan dy="-11.89" font-size="31.20">O)</tspan><tspan dy="11.89" font-size="18.13">8</tspan></text>
<text x="0" y="0" font-size="30.7" class="k" transform="translate(197.4,228.8) rotate(22)"><tspan dy="0.00" font-size="30.70" font-style="italic">BiOCl+2H</tspan><tspan dy="-16.96" dx="2.5" font-size="17.84">+</tspan><tspan dy="16.96" font-size="30.70" font-style="italic"> + 3e</tspan><tspan dy="-16.96" dx="2.5" font-size="17.84">-</tspan><tspan dy="16.96" font-size="30.70" font-style="italic">= Bi + Cl</tspan><tspan dy="-16.96" dx="2.5" font-size="17.84">-</tspan><tspan dy="16.96" font-size="30.70" font-style="italic"> + H</tspan><tspan dy="11.70" dx="-0.5" font-size="17.84">2</tspan><tspan dy="-11.70" font-size="30.70" font-style="italic">O</tspan></text>
<text x="0" y="0" font-size="31.5" class="r" transform="translate(226.5,324.5) rotate(32.2)"><tspan dy="0.00" font-size="31.50">2H</tspan><tspan dy="-17.40" font-size="18.30">+</tspan><tspan dy="17.40" font-size="31.50">+2e</tspan><tspan dy="-17.40" font-size="18.30">-</tspan><tspan dy="17.40" font-size="31.50"> =H</tspan><tspan dy="12.00" font-size="18.30">2</tspan></text>
<line x1="338.1" y1="147.7" x2="404.8" y2="147.7" stroke="#ff0000" stroke-width="1.3"/>
<polygon points="418,147.7 401.5,144.1 401.5,151.29999999999998" fill="#ff0000"/>
<line x1="430" y1="175.3" x2="383.64" y2="175.3" stroke="#8000ff" stroke-width="1.4"/>
<polygon points="371,175.3 386.8,171.60000000000002 386.8,179.0" fill="#8000ff"/>
<line x1="476.8" y1="250.6" x2="524.2" y2="250.6" stroke="#8000ff" stroke-width="1.6"/>
<polygon points="537,250.6 521,246.2 521,255.0" fill="#8000ff"/>
<line x1="549.4" y1="264" x2="506.56" y2="264" stroke="#008000" stroke-width="2.7"/>
<polygon points="492.8,264 510.0,259.1 510.0,268.9" fill="#008000"/>
<line x1="1084.00" y1="89.00" x2="1084.00" y2="639.10" stroke="#000" stroke-width="2.1" />
<line x1="1083.00" y1="638.00" x2="1765.20" y2="638.00" stroke="#000" stroke-width="2.2" />
<line x1="1084.80" y1="638.00" x2="1084.80" y2="649.00" stroke="#000" stroke-width="2.0" />
<line x1="1131.60" y1="638.00" x2="1131.60" y2="643.60" stroke="#000" stroke-width="2.0" />
<line x1="1178.40" y1="638.00" x2="1178.40" y2="649.00" stroke="#000" stroke-width="2.0" />
<line x1="1225.20" y1="638.00" x2="1225.20" y2="643.60" stroke="#000" stroke-width="2.0" />
<line x1="1272.00" y1="638.00" x2="1272.00" y2="649.00" stroke="#000" stroke-width="2.0" />
<line x1="1318.80" y1="638.00" x2="1318.80" y2="643.60" stroke="#000" stroke-width="2.0" />
<line x1="1365.60" y1="638.00" x2="1365.60" y2="649.00" stroke="#000" stroke-width="2.0" />
<line x1="1412.40" y1="638.00" x2="1412.40" y2="643.60" stroke="#000" stroke-width="2.0" />
<line x1="1459.20" y1="638.00" x2="1459.20" y2="649.00" stroke="#000" stroke-width="2.0" />
<line x1="1506.00" y1="638.00" x2="1506.00" y2="643.60" stroke="#000" stroke-width="2.0" />
<line x1="1552.80" y1="638.00" x2="1552.80" y2="649.00" stroke="#000" stroke-width="2.0" />
<line x1="1599.60" y1="638.00" x2="1599.60" y2="643.60" stroke="#000" stroke-width="2.0" />
<line x1="1646.40" y1="638.00" x2="1646.40" y2="649.00" stroke="#000" stroke-width="2.0" />
<line x1="1693.20" y1="638.00" x2="1693.20" y2="643.60" stroke="#000" stroke-width="2.0" />
<line x1="1740.00" y1="638.00" x2="1740.00" y2="649.00" stroke="#000" stroke-width="2.0" />
<line x1="1084.00" y1="632.50" x2="1072.20" y2="632.50" stroke="#000" stroke-width="2.0" />
<line x1="1084.00" y1="580.76" x2="1078.00" y2="580.76" stroke="#000" stroke-width="2.0" />
<line x1="1084.00" y1="529.02" x2="1072.20" y2="529.02" stroke="#000" stroke-width="2.0" />
<line x1="1084.00" y1="477.28" x2="1078.00" y2="477.28" stroke="#000" stroke-width="2.0" />
<line x1="1084.00" y1="425.54" x2="1072.20" y2="425.54" stroke="#000" stroke-width="2.0" />
<line x1="1084.00" y1="373.80" x2="1078.00" y2="373.80" stroke="#000" stroke-width="2.0" />
<line x1="1084.00" y1="322.06" x2="1072.20" y2="322.06" stroke="#000" stroke-width="2.0" />
<line x1="1084.00" y1="270.32" x2="1078.00" y2="270.32" stroke="#000" stroke-width="2.0" />
<line x1="1084.00" y1="218.58" x2="1072.20" y2="218.58" stroke="#000" stroke-width="2.0" />
<line x1="1084.00" y1="166.84" x2="1078.00" y2="166.84" stroke="#000" stroke-width="2.0" />
<line x1="1084.00" y1="115.10" x2="1072.20" y2="115.10" stroke="#000" stroke-width="2.0" />
<text x="1084.80" y="682.2" font-size="34.0" text-anchor="middle">0</text>
<text x="1178.40" y="682.2" font-size="34.0" text-anchor="middle">2</text>
<text x="1272.00" y="682.2" font-size="34.0" text-anchor="middle">4</text>
<text x="1365.60" y="682.2" font-size="34.0" text-anchor="middle">6</text>
<text x="1459.20" y="682.2" font-size="34.0" text-anchor="middle">8</text>
<text x="1552.80" y="682.2" font-size="34.0" text-anchor="middle">10</text>
<text x="1646.40" y="682.2" font-size="34.0" text-anchor="middle">12</text>
<text x="1740.00" y="682.2" font-size="34.0" text-anchor="middle">14</text>
<text x="1068.8" y="642.40" font-size="34.0" text-anchor="end">0.0</text>
<text x="1068.8" y="538.92" font-size="34.0" text-anchor="end">0.2</text>
<text x="1068.8" y="435.44" font-size="34.0" text-anchor="end">0.4</text>
<text x="1068.8" y="331.96" font-size="34.0" text-anchor="end">0.6</text>
<text x="1068.8" y="228.48" font-size="34.0" text-anchor="end">0.8</text>
<text x="1068.8" y="125.00" font-size="34.0" text-anchor="end">1.0</text>
<line x1="1084.00" y1="114.70" x2="1098.44" y2="114.70" stroke="#000" stroke-width="2.2" />
<polyline points="1097.44,115.11 1099.06,115.11 1100.68,115.11 1102.30,115.11 1103.92,115.11 1105.54,115.11 1107.16,115.11 1108.78,115.12 1110.40,115.12 1112.02,115.12 1113.64,115.12 1115.26,115.12 1116.88,115.12 1118.50,115.13 1120.12,115.13 1121.74,115.13 1123.36,115.13 1124.98,115.14 1126.60,115.14 1128.22,115.14 1129.85,115.15 1131.47,115.15 1133.09,115.15 1134.71,115.16 1136.33,115.16 1137.95,115.17 1139.57,115.17 1141.19,115.18 1142.81,115.19 1144.43,115.19 1146.05,115.20 1147.67,115.21 1149.29,115.22 1150.91,115.23 1152.53,115.24 1154.15,115.25 1155.77,115.26 1157.39,115.28 1159.01,115.29 1160.63,115.31 1162.25,115.32 1163.87,115.34 1165.49,115.36 1167.12,115.38 1168.74,115.41 1170.36,115.43 1171.98,115.46 1173.60,115.49 1175.22,115.52 1176.84,115.56 1178.46,115.60 1180.08,115.64 1181.70,115.68 1183.32,115.73 1184.94,115.78 1186.56,115.84 1188.18,115.90 1189.80,115.96 1191.42,116.04 1193.04,116.11 1194.66,116.20 1196.28,116.29 1197.90,116.39 1199.52,116.49 1201.14,116.61 1202.77,116.73 1204.39,116.87 1206.01,117.01 1207.63,117.17 1209.25,117.34 1210.87,117.53 1212.49,117.73 1214.11,117.95 1215.73,118.18 1217.35,118.44 1218.97,118.71 1220.59,119.01 1222.21,119.33 1223.83,119.68 1225.45,120.05 1227.07,120.46 1228.69,120.90 1230.31,121.38 1231.93,121.89 1233.55,122.45 1235.17,123.05 1236.79,123.70 1238.42,124.40 1240.04,125.15 1241.66,125.97 1243.28,126.85 1244.90,127.80 1246.52,128.83 1248.14,129.94 1249.76,131.13 1251.38,132.41 1253.00,133.80 1254.62,135.29 1256.24,136.90 1257.86,138.62 1259.48,140.48 1261.10,142.47 1262.72,144.62 1264.34,146.92 1265.96,149.38 1267.58,152.02 1269.20,154.85 1270.82,157.88 1272.44,161.11 1274.07,164.57 1275.69,168.25 1277.31,172.17 1278.93,176.35 1280.55,180.79 1282.17,185.50 1283.79,190.49 1285.41,195.77 1287.03,201.35 1288.65,207.23 1290.27,213.43 1291.89,219.93 1293.51,226.76 1295.13,233.89 1296.75,241.35 1298.37,249.11 1299.99,257.18 1301.61,265.54 1303.23,274.19 1304.85,283.10 1306.47,292.27 1308.09,301.67 1309.71,311.29 1311.34,321.09 1312.96,331.05 1314.58,341.14 1316.20,351.33 1317.82,361.60 1319.44,371.90 1321.06,382.21 1322.68,392.49 1324.30,402.72 1325.92,412.85 1327.54,422.86 1329.16,432.73 1330.78,442.41 1332.40,451.89 1334.02,461.15 1335.64,470.16 1337.26,478.91 1338.88,487.38 1340.50,495.55 1342.12,503.43 1343.74,511.00 1345.36,518.25 1346.99,525.19 1348.61,531.82 1350.23,538.12 1351.85,544.12 1353.47,549.81 1355.09,555.20 1356.71,560.30 1358.33,565.11 1359.95,569.65 1361.57,573.92 1363.19,577.93 1364.81,581.70 1366.43,585.24 1368.05,588.56 1369.67,591.66 1371.29,594.56 1372.91,597.27 1374.53,599.80 1376.15,602.16 1377.77,604.35 1379.39,606.40 1381.01,608.31 1382.64,610.08 1384.26,611.73 1385.88,613.26 1387.50,614.69 1389.12,616.01 1390.74,617.24 1392.36,618.37 1393.98,619.43 1395.60,620.41 1397.22,621.31 1398.84,622.15 1400.46,622.93 1402.08,623.65 1403.70,624.32 1405.32,624.94 1406.94,625.51 1408.56,626.04 1410.18,626.53 1411.80,626.98 1413.42,627.40 1415.04,627.79 1416.66,628.14 1418.29,628.48 1419.91,628.78 1421.53,629.06 1423.15,629.33 1424.77,629.57 1426.39,629.79 1428.01,630.00 1429.63,630.19 1431.25,630.37 1432.87,630.53 1434.49,630.68 1436.11,630.82 1437.73,630.95 1439.35,631.07 1440.97,631.18 1442.59,631.28 1444.21,631.37 1445.83,631.46 1447.45,631.54 1449.07,631.61 1450.69,631.68 1452.31,631.74 1453.93,631.80 1455.56,631.85 1457.18,631.90 1458.80,631.95 1460.42,631.99 1462.04,632.03 1463.66,632.07 1465.28,632.10 1466.90,632.13 1468.52,632.16 1470.14,632.18 1471.76,632.21 1473.38,632.23 1475.00,632.25 1476.62,632.27 1478.24,632.29 1479.86,632.30 1481.48,632.32 1483.10,632.33 1484.72,632.35 1486.34,632.36 1487.96,632.37 1489.58,632.38 1491.21,632.39 1492.83,632.40 1494.45,632.40 1496.07,632.41 1497.69,632.42 1499.31,632.42 1500.93,632.43 1502.55,632.44 1504.17,632.44 1505.79,632.45 1507.41,632.45 1509.03,632.45 1510.65,632.46 1512.27,632.46 1513.89,632.46 1515.51,632.47 1517.13,632.47 1518.75,632.47 1520.37,632.47 1521.99,632.48 1523.61,632.48 1525.23,632.48 1526.86,632.48 1528.48,632.48 1530.10,632.48 1531.72,632.48 1533.34,632.49 1534.96,632.49 1536.58,632.49 1538.20,632.49 1539.82,632.49 1541.44,632.49 1543.06,632.49 1544.68,632.49 1546.30,632.49 1547.92,632.49 1549.54,632.49 1551.16,632.49 1552.78,632.49 1554.40,632.49 1556.02,632.50 1557.64,632.50 1559.26,632.50 1560.88,632.50 1562.51,632.50 1564.13,632.50 1565.75,632.50 1567.37,632.50 1568.99,632.50 1570.61,632.50 1572.23,632.50 1573.85,632.50 1575.47,632.50 1577.09,632.50 1578.71,632.50 1580.33,632.50 1581.95,632.50 1583.57,632.50 1585.19,632.50 1586.81,632.50 1588.43,632.50 1590.05,632.50 1591.67,632.50 1593.29,632.50 1594.91,632.50 1596.53,632.50 1598.16,632.50 1599.78,632.50 1601.40,632.50 1603.02,632.50 1604.64,632.50 1606.26,632.50 1607.88,632.50 1609.50,632.50 1611.12,632.50 1612.74,632.50 1614.36,632.50 1615.98,632.50 1617.60,632.50 1619.22,632.50 1620.84,632.50 1622.46,632.50 1624.08,632.50 1625.70,632.50 1627.32,632.50 1628.94,632.50 1630.56,632.50 1632.18,632.50 1633.80,632.50 1635.43,632.50 1637.05,632.50 1638.67,632.50 1640.29,632.50 1641.91,632.50 1643.53,632.50 1645.15,632.50 1646.77,632.50 1648.39,632.50 1650.01,632.50 1651.63,632.50 1653.25,632.50 1654.87,632.50 1656.49,632.50 1658.11,632.50 1659.73,632.50 1661.35,632.50 1662.97,632.50 1664.59,632.50 1666.21,632.50 1667.83,632.50 1669.45,632.50 1671.08,632.50 1672.70,632.50 1674.32,632.50 1675.94,632.50 1677.56,632.50 1679.18,632.50 1680.80,632.50 1682.42,632.50 1684.04,632.50 1685.66,632.50 1687.28,632.50 1688.90,632.50 1690.52,632.50 1692.14,632.50 1693.76,632.50 1695.38,632.50 1697.00,632.50 1698.62,632.50 1700.24,632.50 1701.86,632.50 1703.48,632.50 1705.10,632.50 1706.73,632.50 1708.35,632.50 1709.97,632.50 1711.59,632.50 1713.21,632.50 1714.83,632.50 1716.45,632.50 1718.07,632.50 1719.69,632.50 1721.31,632.50 1722.93,632.50 1724.55,632.50 1726.17,632.50 1727.79,632.50 1729.41,632.50 1731.03,632.50 1732.65,632.50 1734.27,632.50 1735.89,632.50 1737.51,632.50 1739.13,632.50 1740.75,632.50 1742.38,632.50 1744.00,632.50 1745.62,632.50" fill="none" stroke="#000" stroke-width="3.2" stroke-linejoin="round" stroke-linecap="round"/>
<text x="920.6" y="45.6" font-size="64.3" style="stroke-width:0.4px">(b)</text>
<text x="1388.3" y="733.3" font-size="43.5">pH</text>
<text transform="translate(986.4,489.8) rotate(-90)" font-size="43"><tspan dy="0.00" font-size="43">[Al</tspan><tspan dy="-23.80" font-size="25">3+</tspan><tspan dy="23.80" font-size="43">] / [Al</tspan><tspan dy="-23.80" font-size="25">total</tspan><tspan dy="23.80" font-size="43">]</tspan></text>
<text x="1366.5" y="339.8" font-size="42.7"><tspan dy="0.00" font-size="42.7">[Al</tspan><tspan dy="-23.40" font-size="25">3+</tspan><tspan dy="23.40" font-size="42.7">]</tspan></text>
<text x="1365" y="410.8" font-size="42.7"><tspan dy="0.00" font-size="42.7">[Al</tspan><tspan dy="-24.50" font-size="25.5">total</tspan><tspan dy="24.50" font-size="42.7">]</tspan></text>
<line x1="1356.70" y1="363.40" x2="1474.80" y2="363.40" stroke="#000" stroke-width="3.2" stroke-linecap="round"/>
<text x="1509.5" y="375.5" font-size="52.5" text-anchor="middle">=</text>
<line x1="1535.30" y1="359.20" x2="1820.00" y2="359.20" stroke="#000" stroke-width="3.2" stroke-linecap="round"/>
<text x="1635.3" y="344.3" font-size="42.7">1</text>
<text x="1548.1" y="410.1" font-size="43">1 + 10</text>
<text x="1668.7" y="395.9" font-size="29"><tspan font-size="33.3" dy="0.3">(</tspan><tspan dy="-0.3" font-style="italic">pH - pK</tspan><tspan font-size="19" dy="6.2">1</tspan><tspan dy="-5.9" font-size="33.3">)</tspan></text>
</svg>
</body></html>
